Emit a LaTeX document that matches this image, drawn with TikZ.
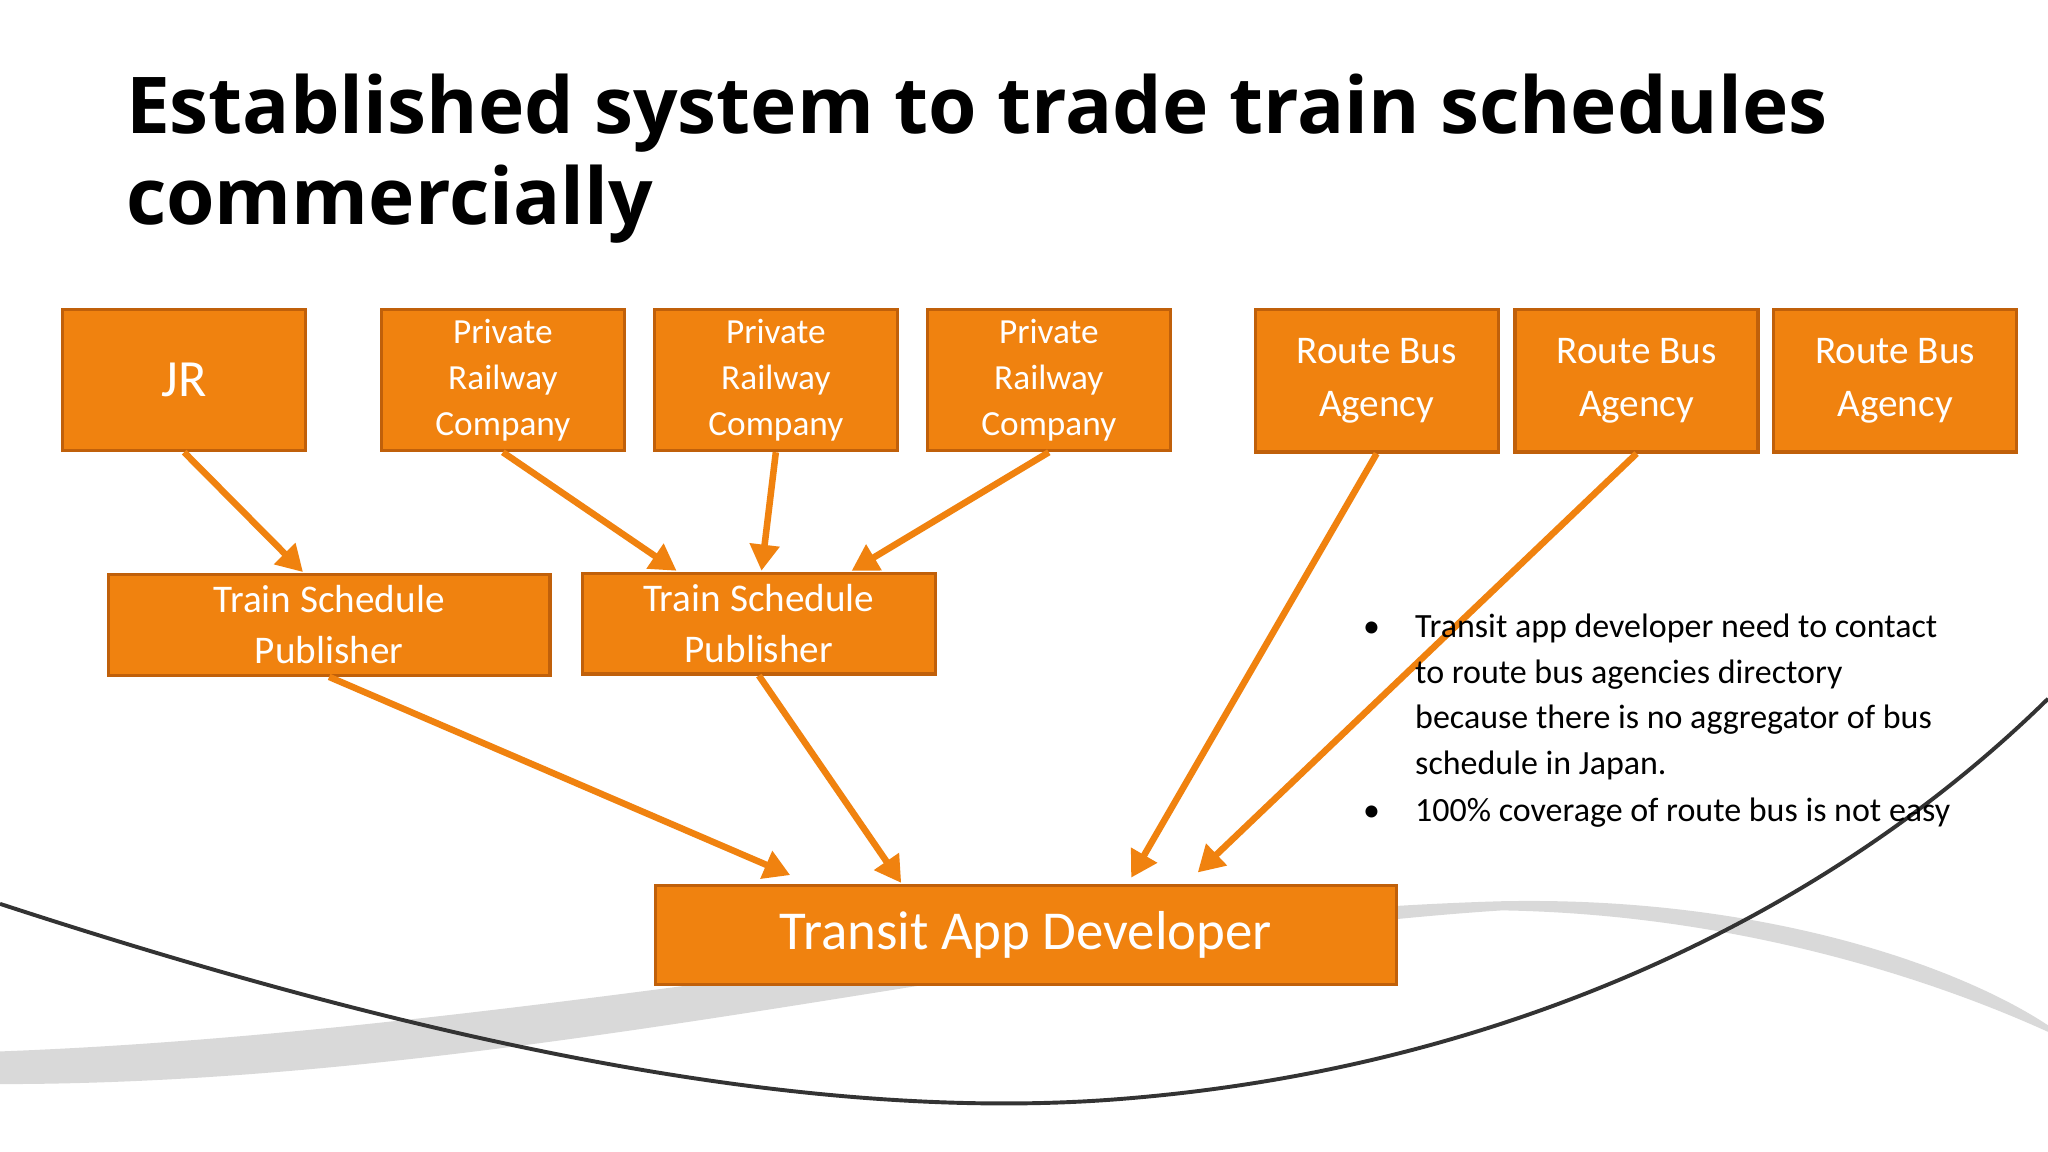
\documentclass[tikz,border=0pt]{standalone}
\usepackage{fontspec}
\setmainfont{Carlito}
\newfontfamily\titlefont{Open Sans}
\usetikzlibrary{arrows.meta}
\definecolor{org}{HTML}{F0820F}
\definecolor{orgb}{HTML}{C0600A}
\tikzset{
 box/.style={draw=orgb,line width=2.5pt,fill=org,text=white,inner sep=0pt,align=center},
 arr/.style={draw=org,line width=5pt,-{Triangle[length=20pt,width=22pt]}}
}
\begin{document}
\begin{tikzpicture}[x=1pt,y=-1pt]
\useasboundingbox[fill=white] (0,0) rectangle (1568,882);
% background curves
\fill[black!15] (0,805) .. controls (400,790) and (800,700) .. (1150,690) .. controls (1350,686) and (1500,740) .. (1568,785) -- (1568,790) .. controls (1480,750) and (1330,700) .. (1150,697) .. controls (800,720) and (400,830) .. (0,830) -- cycle;
\draw[black!80,line width=3pt] (0,692) .. controls (300,790) and (600,860) .. (850,842) .. controls (1150,820) and (1400,700) .. (1568,535);
% title
\node[anchor=base west,font=\titlefont\bfseries\fontsize{60}{72}\selectfont,align=left] (title) at (93,102) {Established system to trade train schedules};
\node[anchor=base west,font=\titlefont\bfseries\fontsize{60}{72}\selectfont] (title2) at (93,172) {commercially};
% boxes
\node[box,minimum width=186pt,minimum height=108pt,font=\fontsize{40}{44}\selectfont] (jr) at (141,291) {JR};
\foreach \n/\x in {p1/385,p2/594,p3/803}
 \node[box,minimum width=186pt,minimum height=108pt,font=\fontsize{27}{35.5}\selectfont] (\n) at (\x,291) {Private\\Railway\\Company};
\foreach \n/\x in {b1/1054,b2/1253,b3/1451}
 \node[box,minimum width=186pt,minimum height=109pt,font=\fontsize{30}{40}\selectfont] (\n) at (\x,291.5) {Route Bus\\Agency};
\node[box,minimum width=338pt,minimum height=77pt,font=\fontsize{30}{39}\selectfont] (t1) at (252,478.5) {Train Schedule\\Publisher};
\node[box,minimum width=270pt,minimum height=77pt,font=\fontsize{30}{39}\selectfont] (t2) at (581,477.5) {Train Schedule\\Publisher};
\node[box,minimum width=567pt,minimum height=76pt,font=\fontsize{42}{46}\selectfont] (tad) at (785.5,716) {Transit App Developer};
% arrows
\coordinate (tl1) at (232,438); \coordinate (tl2) at (518,437);
\coordinate (tl3) at (583,437); \coordinate (tl4) at (652,437);
\coordinate (d1) at (605,670); \coordinate (d2) at (690,676);
\coordinate (d3) at (866,672); \coordinate (d4) at (917,668);
\draw[arr] (jr.south) -- (tl1);
\draw[arr] (p1.south) -- (tl2);
\draw[arr] (p2.south) -- (tl3);
\draw[arr] (p3.south) -- (tl4);
\draw[arr] (t1.south) -- (d1);
\draw[arr] (t2.south) -- (d2);
\draw[arr] (b1.south) -- (d3);
\draw[arr] (b2.south) -- (d4);
% bullets
\begin{scope}[every node/.style={anchor=base west,font=\fontsize{26}{30}\selectfont}]
\node (bu1) at (1040,488) {•};
\node (l1) at (1080,488) {Transit app developer need to contact};
\node (l2) at (1080,523) {to route bus agencies directory};
\node (l3) at (1080,558) {because there is no aggregator of bus};
\node (l4) at (1080,593) {schedule in Japan.};
\node (bu2) at (1040,629) {•};
\node (l5) at (1080,629) {100\% coverage of route bus is not easy};
\end{scope}
\end{tikzpicture}
\end{document}
